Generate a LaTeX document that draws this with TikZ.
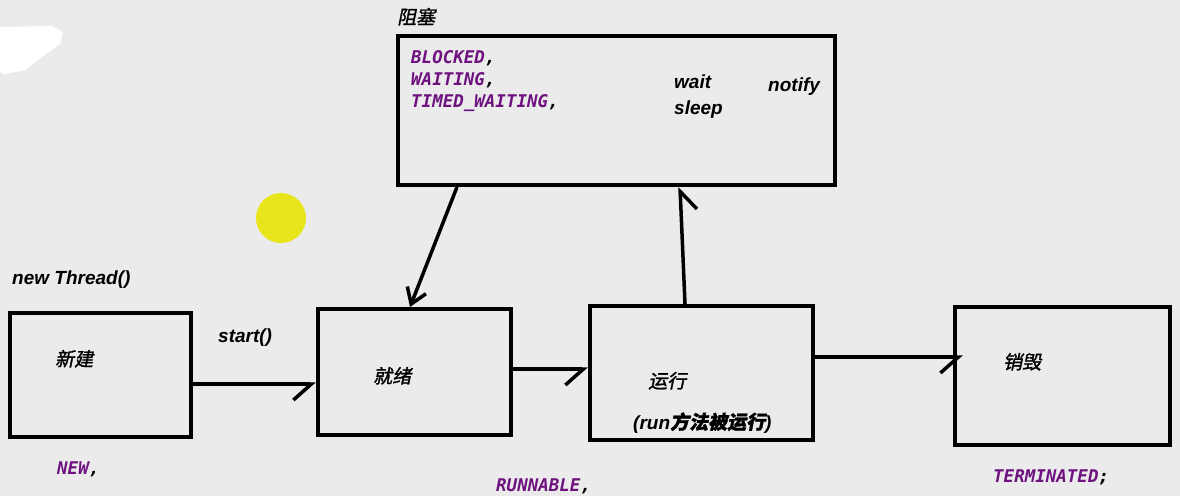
\documentclass[tikz,border=0pt]{standalone}
\usepackage{fontspec}
\setmainfont{Liberation Sans}
\newfontfamily\cjkfont[FakeSlant=0.2,FakeBold=1.5]{Noto Sans CJK SC}
\newfontfamily\constfont{DejaVu Sans Mono}
\usepackage{tikz}
\usetikzlibrary{arrows.meta,positioning}
\definecolor{ScreenBG}{HTML}{EBEBEB}
\definecolor{ConstPurple}{HTML}{6E1280}
\definecolor{CursorYellow}{HTML}{E8E61A}
\tikzset{
  statebox/.style={draw=black,line width=4pt,inner sep=0pt},
  cnlabel/.style={anchor=base west,inner sep=0pt,font=\cjkfont\fontsize{19}{22}\selectfont},
  codelabel/.style={anchor=base west,inner sep=0pt,font=\bfseries\itshape\fontsize{19}{22}\selectfont},
  constlabel/.style={anchor=base west,inner sep=0pt,text=ConstPurple,font=\constfont\bfseries\itshape\fontsize{17.5}{22}\selectfont},
  flow/.style={line width=3.5pt,-{Straight Barb[harpoon,swap,length=18pt,width=32pt]}},
  flowboth/.style={line width=3.5pt,-{Straight Barb[length=15pt,width=20pt]}}
}

\begin{document}
\begin{tikzpicture}[x=1pt,y=-1pt]
  \fill[ScreenBG] (0,0) rectangle (1180,496);
  \useasboundingbox (0,0) rectangle (1180,496);
  % screen leftovers
  \fill[white] (0,27) -- (52,26) -- (63,32) -- (60,44) -- (38,60) -- (26,70) -- (4,74) -- (0,72) -- cycle;
  \fill[CursorYellow] (281,218) circle (25);

  % states
  \node[statebox,minimum width=437pt,minimum height=149pt] (blocked) at (616.5,110.5) {};
  \node[statebox,minimum width=181pt,minimum height=124pt] (new) at (100.5,375) {};
  \node[statebox,minimum width=193pt,minimum height=126pt] (ready) at (414.5,372) {};
  \node[statebox,minimum width=223pt,minimum height=134pt] (run) at (701.5,373) {};
  \node[statebox,minimum width=215pt,minimum height=138pt] (dead) at (1062.5,376) {};

  % texts
  \node[cnlabel] (blockedcn) at (397,24) {阻塞};
  \foreach \txt [count=\i] in {BLOCKED,WAITING,TIMED\_WAITING}
    \node[constlabel] (blk\i) at (411,41+22*\i) {\txt{\color{black},}};
  \node[codelabel] (wait) at (674,88) {wait};
  \node[codelabel] (sleep) at (674,114) {sleep};
  \node[codelabel] (notify) at (768,91) {notify};
  \node[codelabel] (newthread) at (12,284) {new Thread()};
  \node[codelabel] (start) at (218,342) {start()};
  \node[cnlabel] (newcn) at (55,366) {新建};
  \node[constlabel] (newconst) at (57,474) {NEW{\color{black},}};
  \node[cnlabel] (readycn) at (373,383) {就绪};
  \node[cnlabel] (runcn) at (648,388) {运行};
  \node[codelabel] (runnote) at (633,429) {(run{\cjkfont 方法被运行})};
  \node[constlabel] (runnable) at (496,491) {RUNNABLE{\color{black},}};
  \node[cnlabel] (deadcn) at (1003,369) {销毁};
  \node[constlabel] (terminated) at (993,482) {TERMINATED{\color{black};}};

  % transitions
  \draw[flow] ([yshift=-9pt]new.east) -- ([yshift=-12pt]ready.west);
  \draw[flow] ([yshift=3pt]ready.east) -- ([yshift=4pt]run.west);
  \draw[flow,shorten >=-10pt] ([yshift=16pt]run.east) -- ([yshift=19pt]dead.west);
  \draw[flowboth] ([xshift=-159.5pt]blocked.south) -- ([xshift=-4.5pt]ready.north);
  \draw[flow] ([xshift=-16.5pt]run.north) -- ([xshift=63.5pt]blocked.south);
\end{tikzpicture}
\end{document}
